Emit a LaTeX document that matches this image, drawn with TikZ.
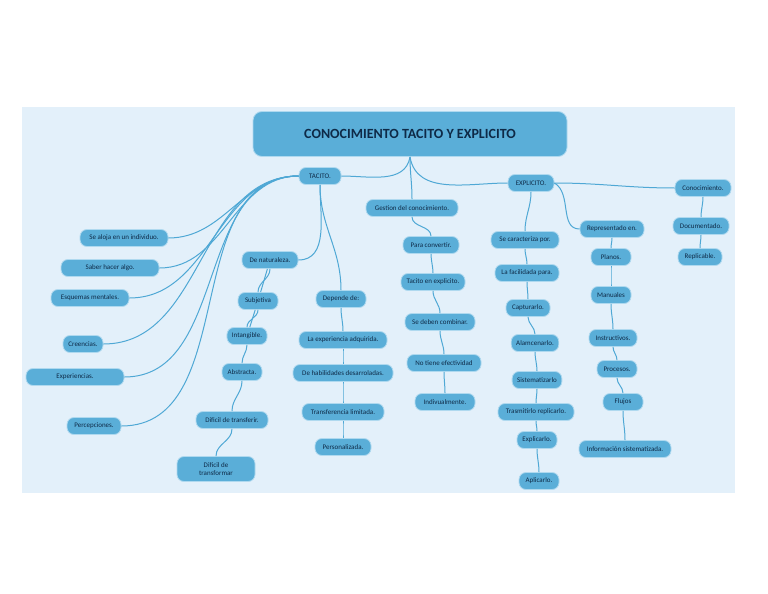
\documentclass[tikz,border=0pt]{standalone}
\usepackage{fontspec}
\setmainfont{Carlito}
\begin{document}
\begin{tikzpicture}[x=1pt,y=-1pt,
  box/.style={draw=cb!70!white,line width=0.8pt,fill=cf,rounded corners=7pt,minimum height=17pt,inner xsep=5pt,font=\fontsize{7}{8}\selectfont,text=tx},
  ln/.style={draw=cl,line width=1pt},
  ch/.style={ln,out=-90,in=90}]
\definecolor{bg}{HTML}{E3F0FA}
\definecolor{cf}{HTML}{5AAED8}
\definecolor{cb}{HTML}{8CC8E8}
\definecolor{cl}{HTML}{4FA8D5}
\definecolor{tx}{HTML}{0E2A47}
\useasboundingbox (0,0) rectangle (768,594);
\fill[bg] (22,107) rectangle (735,493);
\node[box,minimum width=314pt,minimum height=45pt,rounded corners=9pt,font=\bfseries\fontsize{14}{16}\selectfont] (title) at (410,134) {CONOCIMIENTO TACITO Y EXPLICITO};
\node[box,minimum width=42pt] (tac) at (320,176) {TACITO.};
\node[box,minimum width=46pt] (exp) at (531,183) {EXPLICITO.};
\node[box,minimum width=56pt] (con) at (703,188) {Conocimiento.};
\node[box,minimum width=92pt] (ges) at (412,208) {Gestion del conocimiento.};
\node[box,minimum width=88pt] (l1) at (124,238) {Se aloja en un individuo.};
\node[box,minimum width=98pt] (l2) at (110,268) {Saber hacer algo.};
\node[box,minimum width=78pt] (l3) at (90,298) {Esquemas mentales.};
\node[box,minimum width=40pt] (l4) at (83,344) {Creencias.};
\node[box,minimum width=98pt] (l5) at (75,377) {Experiencias.};
\node[box,minimum width=54pt] (l6) at (94,426) {Percepciones.};
\node[box,minimum width=56pt] (a1) at (270,260) {De naturaleza.};
\node[box,minimum width=40pt] (a2) at (258,301) {Subjetiva};
\node[box,minimum width=40pt] (a3) at (247,336) {Intangible.};
\node[box,minimum width=40pt] (a4) at (242,372) {Abstracta.};
\node[box,minimum width=72pt] (a5) at (232,420) {Dificil de transferir.};
\node[box,minimum width=78pt,minimum height=25pt,align=center] (a6) at (216,469) {Dificil de\\transformar};
\node[box,minimum width=50pt] (b1) at (341,299) {Depende de:};
\node[box,minimum width=88pt] (b2) at (343,340) {La experiencia adquirida.};
\node[box,minimum width=100pt] (b3) at (343,373) {De habilidades desarroladas.};
\node[box,minimum width=82pt] (b4) at (343,412) {Transferencia limitada.};
\node[box,minimum width=56pt] (b5) at (343,447) {Personalizada.};
\node[box,minimum width=56pt] (c1) at (431,245) {Para convertir.};
\node[box,minimum width=64pt] (c2) at (433,282) {Tacito en explicito.};
\node[box,minimum width=70pt] (c3) at (440,322) {Se deben combinar.};
\node[box,minimum width=74pt] (c4) at (444,363) {No tiene efectividad};
\node[box,minimum width=60pt] (c5) at (445,402) {Indivualmente.};
\node[box,minimum width=68pt] (d1) at (525,240) {Se caracteriza por.};
\node[box,minimum width=64pt] (d2) at (527,273) {La facilidada para.};
\node[box,minimum width=44pt] (d3) at (528,308) {Capturarlo.};
\node[box,minimum width=46pt] (d4) at (535,343) {Alamcenarlo.};
\node[box,minimum width=46pt] (d5) at (537,380) {Sistematizarlo};
\node[box,minimum width=76pt] (d6) at (536,412) {Trasmitirlo replicarlo.};
\node[box,minimum width=40pt] (d7) at (537,440) {Explicarlo.};
\node[box,minimum width=40pt] (d8) at (539,481) {Aplicarlo.};
\node[box,minimum width=64pt] (e1) at (612,229) {Representado en.};
\node[box,minimum width=40pt] (e2) at (611,257) {Planos.};
\node[box,minimum width=40pt] (e3) at (611,295) {Manuales};
\node[box,minimum width=48pt] (e4) at (613,338) {Instructivos.};
\node[box,minimum width=40pt] (e5) at (617,369) {Procesos.};
\node[box,minimum width=40pt] (e6) at (623,402) {Flujos};
\node[box,minimum width=92pt] (e7) at (625,449) {Información sistematizada.};
\node[box,minimum width=56pt] (f1) at (701,226) {Documentado.};
\node[box,minimum width=44pt] (f2) at (700,257) {Replicable.};
\begin{scope}[on background layer/.style={}]
\end{scope}
% connectors (drawn under nodes via pgfonlayer-free approach: redraw nodes not needed)
\begin{scope}
\coordinate (tb) at (410,157);
\draw[ln] (tb) to[out=-100,in=0] (tac.east);
\draw[ln] (tb) to[out=-90,in=90] (ges.north);
\draw[ln] (tb) to[out=-80,in=180] (exp.west);
\foreach \l in {l1,l2,l3,l4,l5,l6} \draw[ln] (tac.west) to[out=180,in=0] (\l.east);
\draw[ln] (tac.south) to[out=-90,in=0] (a1.east);
\draw[ln] (tac.south) to[out=-90,in=90] (b1.north);
\draw[ch] (a1)--(a2); \draw[ch] (a2)--(a3);
\draw[ch] (a1.south) to (a2.north); \draw[ch] (a2.south) to (a3.north);
\draw[ch] (a3.south) to (a4.north); \draw[ch] (a4.south) to (a5.north);
\draw[ch] (a5.south) to (a6.north);
\draw[ch] (b1.south) to (b2.north); \draw[ch] (b2.south) to (b3.north);
\draw[ch] (b3.south) to (b4.north); \draw[ch] (b4.south) to (b5.north);
\draw[ch] (ges.south) to (c1.north); \draw[ch] (c1.south) to (c2.north);
\draw[ch] (c2.south) to (c3.north); \draw[ch] (c3.south) to (c4.north);
\draw[ch] (c4.south) to (c5.north);
\draw[ch] (exp.south) to (d1.north);
\foreach \a/\b in {d1/d2,d2/d3,d3/d4,d4/d5,d5/d6,d6/d7,d7/d8,e1/e2,e2/e3,e3/e4,e4/e5,e5/e6,e6/e7,con/f1,f1/f2}
  \draw[ch] (\a.south) to (\b.north);
\draw[ln] (exp.east) to[out=-30,in=180] (e1.west);
\draw[ln] (exp.east) to[out=0,in=180] (con.west);
\end{scope}
\end{tikzpicture}
\end{document}
